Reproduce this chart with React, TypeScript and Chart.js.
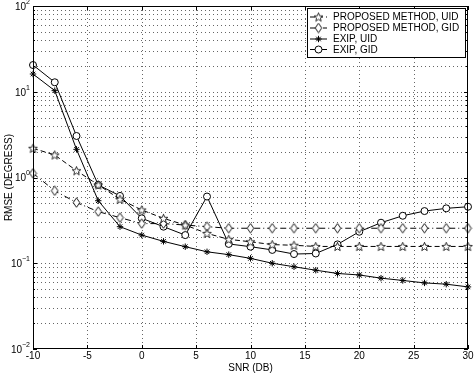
import React, { useEffect, useRef } from 'react';
import { Chart, registerables } from 'chart.js';

Chart.register(...registerables);

const snr = [-10, -8, -6, -4, -2, 0, 2, 4, 6, 8, 10, 12, 14, 16, 18, 20, 22, 24, 26, 28, 30];
const proposedUid = [2.19, 1.83, 1.2, 0.82, 0.557, 0.418, 0.334, 0.279, 0.223, 0.19, 0.178, 0.165, 0.162, 0.157, 0.157, 0.157, 0.157, 0.157, 0.157, 0.157, 0.157];
const proposedGid = [1.12, 0.7, 0.51, 0.4, 0.34, 0.29, 0.29, 0.279, 0.267, 0.256, 0.256, 0.256, 0.256, 0.256, 0.256, 0.256, 0.256, 0.256, 0.256, 0.256, 0.256];
const exipUid = [16.1, 10.3, 2.13, 0.536, 0.267, 0.213, 0.18, 0.156, 0.136, 0.126, 0.114, 0.1, 0.091, 0.083, 0.076, 0.073, 0.067, 0.063, 0.059, 0.057, 0.053];
const exipGid = [20.5, 12.9, 3.05, 0.82, 0.61, 0.334, 0.267, 0.213, 0.6, 0.168, 0.156, 0.143, 0.128, 0.13, 0.166, 0.233, 0.297, 0.358, 0.406, 0.437, 0.456];

const legendLabels = ['PROPOSED METHOD, UID', 'PROPOSED METHOD, GID', 'EXIP, UID', 'EXIP, GID'];
const xTickValues = [-10, -5, 0, 5, 10, 15, 20, 25, 30];
const yDecadeExponents = [2, 1, 0, -1, -2];
const xTitle = 'SNR (DB)';
const yTitle = 'RMSE (DEGRESS)';

const FONT = '"Liberation Sans", Arial, sans-serif';

function makePentagram(): HTMLCanvasElement {
  const c = document.createElement('canvas');
  c.width = 11;
  c.height = 11;
  const ctx = c.getContext('2d')!;
  ctx.strokeStyle = '#000';
  ctx.fillStyle = '#fff';
  ctx.lineWidth = 0.8;
  ctx.beginPath();
  const cx = 5.5, cy = 5.9, R = 4.6, r = 2.0;
  for (let i = 0; i < 10; i++) {
    const a = -Math.PI / 2 + (i * Math.PI) / 5;
    const rad = i % 2 === 0 ? R : r;
    const x = cx + rad * Math.cos(a);
    const y = cy + rad * Math.sin(a);
    if (i === 0) ctx.moveTo(x, y); else ctx.lineTo(x, y);
  }
  ctx.closePath();
  ctx.fill();
  ctx.stroke();
  return c;
}

function makeDiamond(): HTMLCanvasElement {
  const c = document.createElement('canvas');
  c.width = 9;
  c.height = 11;
  const ctx = c.getContext('2d')!;
  ctx.strokeStyle = '#000';
  ctx.fillStyle = '#fff';
  ctx.lineWidth = 0.9;
  ctx.beginPath();
  ctx.moveTo(4.5, 0.8);
  ctx.lineTo(7.8, 5.5);
  ctx.lineTo(4.5, 10.2);
  ctx.lineTo(1.2, 5.5);
  ctx.closePath();
  ctx.fill();
  ctx.stroke();
  return c;
}

export default function App() {
  const ref = useRef<HTMLCanvasElement | null>(null);

  useEffect(() => {
    document.body.style.margin = '0';
    const canvas = ref.current!;
    const pent = makePentagram();
    const diam = makeDiamond();

    const dashes = [[5, 3], [6, 3, 1, 3], [], []];
    const markers: any[] = [pent, diam, 'star', 'circle'];

    const framePlugin = {
      id: 'matlabFrame',
      beforeDatasetsDraw(chart: any) {
        const { ctx, chartArea: a, scales } = chart;
        const xs = scales.x, ys = scales.y;
        ctx.save();
        ctx.strokeStyle = '#666';
        ctx.lineWidth = 1;
        ctx.setLineDash([1, 3]);
        for (let e = -2; e < 2; e++) {
          for (let m = 1; m <= 9; m++) {
            const v = m * Math.pow(10, e);
            const y = Math.round(ys.getPixelForValue(v)) + 0.5;
            if (y <= a.top + 1 || y >= a.bottom - 1) continue;
            ctx.beginPath();
            ctx.moveTo(a.left, y);
            ctx.lineTo(a.right, y);
            ctx.stroke();
          }
        }
        for (const t of xTickValues) {
          const x = Math.round(xs.getPixelForValue(t)) + 0.5;
          if (x <= a.left + 1 || x >= a.right - 1) continue;
          ctx.beginPath();
          ctx.moveTo(x, a.top);
          ctx.lineTo(x, a.bottom);
          ctx.stroke();
        }
        ctx.restore();
      },
      afterDatasetsDraw(chart: any) {
        const { ctx, chartArea: a, scales } = chart;
        const xs = scales.x, ys = scales.y;
        ctx.save();
        ctx.setLineDash([]);
        ctx.strokeStyle = '#000';
        ctx.lineWidth = 1;
        ctx.strokeRect(Math.round(a.left) + 0.5, Math.round(a.top) + 0.5, Math.round(a.right - a.left) - 1, Math.round(a.bottom - a.top) - 1);
        ctx.beginPath();
        for (const t of xTickValues) {
          const x = Math.round(xs.getPixelForValue(t)) + 0.5;
          ctx.moveTo(x, a.bottom); ctx.lineTo(x, a.bottom - 4);
          ctx.moveTo(x, a.top); ctx.lineTo(x, a.top + 4);
        }
        for (let e = -2; e <= 2; e++) {
          for (let m = 1; m <= 9; m++) {
            if (e === 2 && m > 1) break;
            const v = m * Math.pow(10, e);
            const y = Math.round(ys.getPixelForValue(v)) + 0.5;
            const len = m === 1 ? 4 : 2;
            ctx.moveTo(a.left, y); ctx.lineTo(a.left + len, y);
            ctx.moveTo(a.right, y); ctx.lineTo(a.right - len, y);
          }
        }
        ctx.stroke();

        ctx.fillStyle = '#000';
        for (const e of yDecadeExponents) {
          const y = ys.getPixelForValue(Math.pow(10, e));
          const exp = String(e).replace('-', '\u2212');
          ctx.font = `7px ${FONT}`;
          const ew = ctx.measureText(exp).width;
          ctx.textBaseline = 'middle';
          ctx.textAlign = 'left';
          const right = a.left - 3;
          ctx.fillText(exp, right - ew, y - 4);
          ctx.font = `10px ${FONT}`;
          ctx.textAlign = 'right';
          ctx.fillText('10', right - ew, y + 1);
        }

        ctx.font = `10px ${FONT}`;
        ctx.textAlign = 'center';
        ctx.textBaseline = 'middle';
        ctx.fillText(xTitle, (a.left + a.right) / 2, 368);
        ctx.save();
        ctx.translate(9, (a.top + a.bottom) / 2);
        ctx.rotate(-Math.PI / 2);
        ctx.fillText(yTitle, 0, 0);
        ctx.restore();

        const lx = 307.5, ly = 8.5, lw = 158, lh = 49;
        ctx.fillStyle = '#fff';
        ctx.fillRect(lx, ly, lw, lh);
        ctx.strokeStyle = '#000';
        ctx.strokeRect(lx, ly, lw, lh);
        const rows = [17, 28, 39, 49.5];
        chart.data.datasets.forEach((ds: any, i: number) => {
          const y = rows[i];
          ctx.setLineDash(dashes[i]);
          ctx.beginPath();
          ctx.moveTo(310, y);
          ctx.lineTo(327, y);
          ctx.stroke();
          ctx.setLineDash([]);
          const mk = markers[i];
          const mx = 318.5;
          if (mk instanceof HTMLCanvasElement) {
            ctx.drawImage(mk, mx - mk.width / 2, y - mk.height / 2);
          } else if (mk === 'star') {
            ctx.beginPath();
            const r = 3.2;
            ctx.moveTo(mx - r, y); ctx.lineTo(mx + r, y);
            ctx.moveTo(mx, y - r); ctx.lineTo(mx, y + r);
            const d = r * Math.SQRT1_2;
            ctx.moveTo(mx - d, y - d); ctx.lineTo(mx + d, y + d);
            ctx.moveTo(mx - d, y + d); ctx.lineTo(mx + d, y - d);
            ctx.stroke();
          } else {
            ctx.beginPath();
            ctx.arc(mx, y, 3.5, 0, Math.PI * 2);
            ctx.fillStyle = '#fff';
            ctx.fill();
            ctx.stroke();
          }
          ctx.fillStyle = '#000';
          ctx.font = `10px ${FONT}`;
          ctx.textAlign = 'left';
          ctx.textBaseline = 'middle';
          ctx.fillText(legendLabels[i], 333, y + 0.5);
        });
        ctx.restore();
      },
    };

    const mk = (data: number[], i: number, extra: any) => ({
      label: legendLabels[i],
      data: snr.map((x, k) => ({ x, y: data[k] })),
      borderColor: '#000',
      borderWidth: 1,
      borderDash: dashes[i],
      backgroundColor: '#fff',
      pointBorderColor: '#000',
      pointBackgroundColor: '#fff',
      pointBorderWidth: 1,
      pointStyle: markers[i],
      tension: 0,
      clip: false,
      ...extra,
    });

    const chart = new Chart(canvas, {
      type: 'line',
      data: {
        datasets: [
          mk(proposedUid, 0, { pointRadius: 5 }),
          mk(proposedGid, 1, { pointRadius: 5 }),
          mk(exipUid, 2, { pointRadius: 3.2 }),
          mk(exipGid, 3, { pointRadius: 3.5 }),
        ],
      },
      options: {
        animation: false,
        responsive: false,
        events: [],
        layout: { padding: { left: 0, right: 5, top: 6, bottom: 0 } },
        plugins: { legend: { display: false }, tooltip: { enabled: false } },
        scales: {
          x: {
            type: 'linear',
            min: -10,
            max: 30,
            grid: { display: false, drawTicks: false },
            border: { display: false },
            afterBuildTicks: (s: any) => { s.ticks = xTickValues.map((v) => ({ value: v })); },
            afterFit: (s: any) => { s.height = 25; s.paddingLeft = 0; s.paddingRight = 0; },
            ticks: {
              padding: 1,
              color: '#000',
              font: { family: FONT, size: 10 },
              maxRotation: 0,
              autoSkip: false,
              callback: (v: any) => String(v),
            },
          },
          y: {
            type: 'logarithmic',
            min: 0.01,
            max: 100,
            grid: { display: false, drawTicks: false },
            border: { display: false },
            ticks: { display: false },
            afterFit: (s: any) => { s.width = 33; s.paddingTop = 0; s.paddingBottom = 0; },
          },
        },
      },
      plugins: [framePlugin],
    } as any);

    return () => chart.destroy();
  }, []);

  return (
    <div style={{ width: 474, height: 374, background: '#fff' }}>
      <canvas ref={ref} width={474} height={374} style={{ display: 'block' }} />
    </div>
  );
}
